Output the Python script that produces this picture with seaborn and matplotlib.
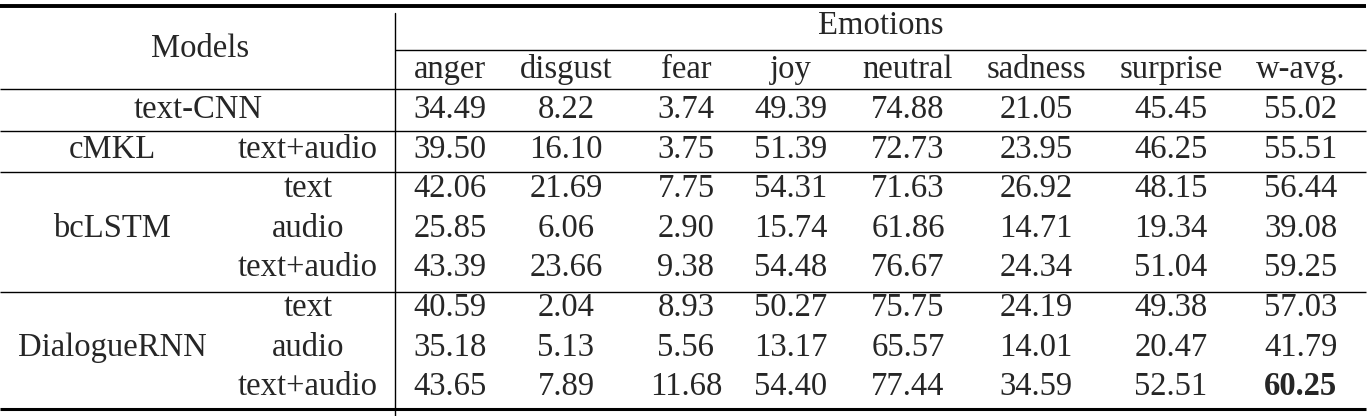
import matplotlib
matplotlib.use("Agg")
import matplotlib.pyplot as plt
import seaborn as sns

# table content
emotions = ["anger", "disgust", "fear", "joy", "neutral", "sadness", "surprise", "w-avg."]
models = ["text-CNN", "cMKL", "bcLSTM", "bcLSTM", "bcLSTM",
          "DialogueRNN", "DialogueRNN", "DialogueRNN"]
modality = ["", "text+audio", "text", "audio", "text+audio", "text", "audio", "text+audio"]
scores = [
    [34.49, 8.22, 3.74, 49.39, 74.88, 21.05, 45.45, 55.02],
    [39.50, 16.10, 3.75, 51.39, 72.73, 23.95, 46.25, 55.51],
    [42.06, 21.69, 7.75, 54.31, 71.63, 26.92, 48.15, 56.44],
    [25.85, 6.06, 2.90, 15.74, 61.86, 14.71, 19.34, 39.08],
    [43.39, 23.66, 9.38, 54.48, 76.67, 24.34, 51.04, 59.25],
    [40.59, 2.04, 8.93, 50.27, 75.75, 24.19, 49.38, 57.03],
    [35.18, 5.13, 5.56, 13.17, 65.57, 14.01, 20.47, 41.79],
    [43.65, 7.89, 11.68, 54.40, 77.44, 34.59, 52.51, 60.25],
]
best = (7, 7)

# layout in pixel units (y = text baselines)
W, H = 1370, 416
col_x = [450, 566, 686, 791, 908, 1036, 1171, 1301]
row_base = [118, 158, 197, 237, 276, 316, 356, 395]
vline_x = 395
model_x, mod_x = 112, 308

sns.set_theme(style="white")
plt.rcParams["font.family"] = ["Liberation Serif", "DejaVu Serif"]
fs = 23.5

fig = plt.figure(figsize=(W / 100, H / 100), dpi=100)
ax = fig.add_axes([0, 0, 1, 1])
ax.set_xlim(0, W)
ax.set_ylim(H, 0)
ax.axis("off")

def hline(y, x0=0, x1=1366, lw=1.0):
    ax.plot([x0, x1], [y, y], color="black", lw=lw, solid_capstyle="butt")

hline(5.5, lw=2.8)
hline(49.5, x0=vline_x)
hline(89)
hline(131)
hline(172)
hline(291.5)
hline(408.5, lw=2.2)
ax.plot([vline_x, vline_x], [13, 416], color="black", lw=1.0)

def put(x, y, s, **kw):
    ax.text(x, y, s, ha="center", va="baseline", fontsize=fs, **kw)

put(200, 57, "Models")
put((vline_x + 1366) / 2, 34, "Emotions")
for x, e in zip(col_x, emotions):
    put(x, 78, e)

# model labels, one per group
groups = {}
for i, m in enumerate(models):
    groups.setdefault(m, []).append(i)
for m, idx in groups.items():
    y = sum(row_base[i] for i in idx) / len(idx)
    x = 198 if m == "text-CNN" else model_x
    put(x, y, m)

for i, md in enumerate(modality):
    if md:
        put(mod_x, row_base[i], md)
    for j, v in enumerate(scores[i]):
        put(col_x[j], row_base[i], f"{v:.2f}",
            fontweight="bold" if (i, j) == best else "normal")

fig.savefig("out.png", dpi=100, facecolor="white")
